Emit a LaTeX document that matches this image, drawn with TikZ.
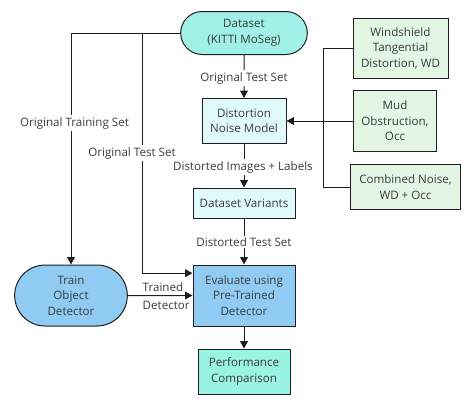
\documentclass[tikz,border=0pt]{standalone}
\usepackage{fontspec}
\setmainfont{Open Sans}
\usepackage{tikz}
\usetikzlibrary{arrows.meta,positioning,shapes.misc}
\definecolor{datacyan}{RGB}{160,240,231}
\definecolor{perfcyan}{RGB}{153,243,226}
\definecolor{noisecyan}{RGB}{224,250,252}
\definecolor{detblue}{RGB}{143,203,242}
\definecolor{varygreen}{RGB}{226,246,227}
\definecolor{textgrey}{RGB}{60,60,60}
\definecolor{linegrey}{RGB}{30,30,30}

\begin{document}
\begin{tikzpicture}[
    x=0.03cm, y=-0.03cm,
    every node/.style={font=\fontsize{9.9}{13.3}\selectfont, text=textgrey},
    box/.style={rectangle, draw=linegrey, line width=0.85pt, align=center, inner sep=0.8mm},
    pill/.style={rounded rectangle, draw=linegrey, line width=0.85pt, align=center, inner sep=0.8mm},
    noise/.style={box, fill=varygreen},
    link/.style={line width=0.85pt, linegrey},
    flow/.style={link, -{Triangle[length=2.2mm,width=2.3mm]}},
    elab/.style={fill=white, inner sep=1.5pt}
]
\useasboundingbox (0,0) rectangle (474,406);

% ============ main column ============
\node[pill, fill=datacyan, minimum width=3.96cm, minimum height=1.29cm] (dataset) at (244,33) {Dataset\\(KITTI MoSeg)};
\node[box, fill=noisecyan, minimum width=2.52cm, minimum height=1.35cm] (noise-model) at (244,121) {Distortion\\Noise Model};
\node[box, fill=noisecyan, minimum width=3.06cm, minimum height=0.9cm] (variants) at (244,203) {Dataset Variants};
\node[box, fill=detblue, minimum width=3.06cm, minimum height=1.83cm] (evaluate) at (244,295.5) {Evaluate using\\Pre-Trained\\Detector};
\node[box, fill=perfcyan, minimum width=2.76cm, minimum height=1.35cm] (perf) at (244,371.5) {Performance\\Comparison};

\node[pill, fill=detblue, minimum width=3.54cm, minimum height=1.83cm] (train) at (71,295.5) {Train\\Object\\Detector};

% ============ noise variants ============
\node[noise, minimum width=2.85cm, minimum height=1.8cm] (windshield) at (400.5,48) {Windshield\\Tangential\\Distortion, WD};
\node[noise, minimum width=2.5cm, minimum height=1.83cm] (mud) at (395,121) {Mud\\Obstruction,\\Occ};
\node[noise, minimum width=3.3cm, minimum height=1.35cm] (combined) at (405.5,187) {Combined Noise,\\WD + Occ};

\coordinate (bus) at (323,0);
\coordinate (test-split) at (142,33);

% ============ connectors ============
\draw[flow] (dataset.west) -| (train.north);
\draw[flow] (test-split) |- ([yshift=0.67cm]evaluate.west);
\draw[flow] (dataset) -- (noise-model);
\draw[flow] (noise-model) -- (variants);
\draw[flow] (variants) -- (evaluate);
\draw[flow] (train) -- (evaluate);
\draw[flow] (evaluate) -- (perf);

\draw[link] (windshield.west) -- (windshield.west -| bus) -- (combined.west -| bus) -- (combined.west);
\draw[flow] (mud.west) -- (noise-model.east);

% ============ labels ============
\node[elab] (lab-train) at (74.5,123) {Original Training Set};
\node[elab] (lab-test) at (132,153) {Original Test Set};
\node[elab] (lab-orig) at (244,78) {Original Test Set};
\node[elab] (lab-dist) at (243,167) {Distorted Images + Labels};
\node[elab] (lab-dtest) at (244,242) {Distorted Test Set};
\node[align=left, anchor=west, inner sep=0pt, font=\fontsize{9.9}{15.5}\selectfont] (lab-trained) at (142.5,296) {Trained\\Detector};

\end{tikzpicture}
\end{document}
